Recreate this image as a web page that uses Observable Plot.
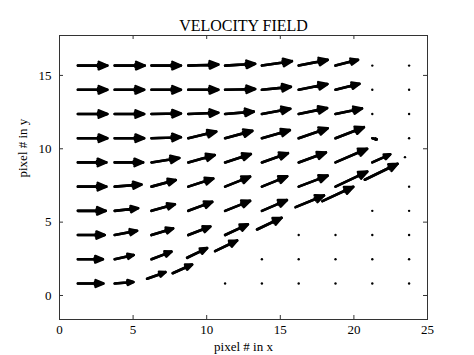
<!DOCTYPE html>
<html><head><meta charset="utf-8">
<script src="https://cdn.jsdelivr.net/npm/d3@7"></script>
<script src="https://cdn.jsdelivr.net/npm/@observablehq/plot@0.6"></script>
<style>html,body{margin:0;padding:0;background:#fff} svg{display:block}</style>
</head><body><div id="chart"></div>
<script>
const xTicks = [0, 5, 10, 15, 20, 25];
const yTicks = [0, 5, 10, 15];
const titleText = "VELOCITY FIELD";
const xLabel = "pixel # in x";
const yLabel = "pixel # in y";

// arrow tails (x, y) and displacements (u, v), read row by row from bottom to top
const xs = [
  1.25, 3.75, 5.95, 7.69, 11.25, 13.75, 16.25, 18.75, 21.25, 23.75,
  1.25, 3.75, 6.25, 8.67, 10.57, 13.75, 16.25, 18.75, 21.25, 23.75,
  1.25, 3.75, 6.25, 8.75, 11.25, 13.42, 16.25, 18.75, 21.25, 23.75,
  1.25, 3.75, 6.25, 8.75, 11.25, 13.75, 16.04, 17.86, 21.25, 23.75,
  1.25, 3.75, 6.25, 8.75, 11.25, 13.75, 16.25, 18.75, 20.74, 23.75,
  1.25, 3.75, 6.25, 8.75, 11.25, 13.75, 16.25, 18.75, 21.25, 23.47,
  1.25, 3.75, 6.25, 8.75, 11.25, 13.75, 16.25, 18.75, 21.25, 23.75,
  1.25, 3.75, 6.25, 8.75, 11.25, 13.75, 16.25, 18.75, 21.25, 23.75,
  1.25, 3.75, 6.25, 8.75, 11.25, 13.75, 16.25, 18.75, 21.25, 23.75,
  1.25, 3.75, 6.25, 8.75, 11.25, 13.75, 16.25, 18.75, 21.25, 23.75
];
const ys = [
  0.82, 0.82, 1.14, 1.52, 0.82, 0.82, 0.82, 0.82, 0.82, 0.82,
  2.47, 2.47, 2.47, 2.57, 3.02, 2.47, 2.47, 2.47, 2.47, 2.47,
  4.12, 4.12, 4.12, 4.12, 4.12, 4.50, 4.12, 4.12, 4.12, 4.12,
  5.77, 5.77, 5.77, 5.77, 5.77, 5.77, 6.02, 6.43, 5.77, 5.77,
  7.42, 7.42, 7.42, 7.42, 7.42, 7.42, 7.42, 7.42, 7.89, 7.42,
  9.07, 9.07, 9.07, 9.07, 9.07, 9.07, 9.07, 9.07, 9.07, 9.43,
  10.72, 10.72, 10.72, 10.72, 10.72, 10.72, 10.72, 10.72, 10.72, 10.72,
  12.37, 12.37, 12.37, 12.37, 12.37, 12.37, 12.37, 12.37, 12.37, 12.37,
  14.02, 14.02, 14.02, 14.02, 14.02, 14.02, 14.02, 14.02, 14.02, 14.02,
  15.67, 15.67, 15.67, 15.67, 15.67, 15.67, 15.67, 15.67, 15.67, 15.67
];
const us = [
  1.73, 1.27, 1.25, 1.32, 0, 0, 0, 0, 0, 0,
  1.70, 1.29, 1.36, 1.36, 1.50, 0, 0, 0, 0, 0,
  1.82, 1.52, 1.47, 1.50, 1.55, 1.67, 0, 0, 0, 0,
  1.89, 1.59, 1.59, 1.63, 1.70, 1.70, 1.93, 2.10, 0, 0,
  1.93, 1.82, 1.65, 1.70, 1.70, 1.72, 1.97, 2.16, 2.23, 0,
  1.93, 1.93, 1.89, 1.80, 1.75, 1.77, 1.85, 2.15, 1.22, 0,
  2.00, 2.00, 2.00, 1.90, 1.85, 1.90, 1.97, 1.93, 0.30, 0,
  2.00, 2.00, 2.00, 2.04, 1.95, 1.93, 1.93, 1.80, 0, 0,
  2.00, 2.00, 2.00, 2.04, 2.04, 1.97, 1.95, 1.63, 0, 0,
  2.00, 2.04, 2.00, 2.04, 2.04, 2.04, 1.97, 1.53, 0, 0
];
const vs = [
  0, 0.10, 0.45, 0.59, 0, 0, 0, 0, 0, 0,
  0, 0.29, 0.52, 0.66, 0.73, 0, 0, 0, 0, 0,
  0, 0.29, 0.45, 0.58, 0.73, 0.80, 0, 0, 0, 0,
  0, 0.18, 0.45, 0.61, 0.68, 0.73, 0.80, 0.98, 0, 0,
  0, 0.14, 0.45, 0.55, 0.68, 0.70, 0.75, 1.02, 1.09, 0,
  0, 0, 0.30, 0.50, 0.57, 0.63, 0.68, 0.93, 0.55, 0,
  0, 0, 0.07, 0.45, 0.50, 0.55, 0.68, 0.75, -0.08, 0,
  0, 0, 0.03, 0.09, 0.16, 0.36, 0.40, 0.38, 0, 0,
  0, 0, 0, 0, 0.05, 0.20, 0.39, 0.41, 0, 0,
  0, 0, 0, 0.07, 0.12, 0.30, 0.39, 0.39, 0, 0
];

const field = xs.map((x, i) => ({x, y: ys[i], u: us[i], v: vs[i]}));
const moving = field.filter(d => d.u !== 0 || d.v !== 0);
const still = field.filter(d => d.u === 0 && d.v === 0);

const W = 474, H = 355, mL = 59, mR = 47, mT = 35, mB = 36;
const fh = H - mT - mB, fw = W - mL - mR, tick = 4;
const font = '"Liberation Serif", "Times New Roman", serif';
const arrowOpts = (angle) => ({
  x1: "x", y1: "y", x2: d => d.x + d.u, y2: d => d.y + d.v,
  stroke: "black", strokeWidth: 2.6, headAngle: angle, headLength: 5.4
});

const plot = Plot.plot({
  width: W, height: H,
  marginLeft: mL, marginRight: mR, marginTop: mT, marginBottom: mB,
  style: {fontFamily: font, fontSize: "13px", background: "white", color: "black", overflow: "visible"},
  x: {domain: [0, 25]},
  y: {domain: [-1.636, 17.72]},
  marks: [
    Plot.frame({stroke: "#333"}),
    Plot.ruleX(xTicks, {insetTop: fh - tick, stroke: "#333"}),
    Plot.ruleX(xTicks, {insetBottom: fh - tick, stroke: "#333"}),
    Plot.ruleY(yTicks, {insetRight: fw - tick, stroke: "#333"}),
    Plot.ruleY(yTicks, {insetLeft: fw - tick, stroke: "#333"}),
    Plot.axisX({ticks: xTicks, tickSize: 0, tickPadding: 5, label: null}),
    Plot.axisY({ticks: yTicks, tickSize: 0, tickPadding: 8, label: null}),
    Plot.arrow(moving, arrowOpts(46)),
    Plot.arrow(moving, arrowOpts(20)),
    Plot.dot(still, {x: "x", y: "y", r: 1.2, fill: "black"}),
    Plot.text([titleText], {frameAnchor: "top", lineAnchor: "middle", dy: -10, fontSize: 16, text: d => d}),
    Plot.text([xLabel], {frameAnchor: "bottom", lineAnchor: "middle", dy: 27, text: d => d}),
    Plot.text([yLabel], {frameAnchor: "left", lineAnchor: "middle", dx: -37, rotate: -90, text: d => d})
  ]
});
document.getElementById("chart").append(plot);
</script>
</body></html>
